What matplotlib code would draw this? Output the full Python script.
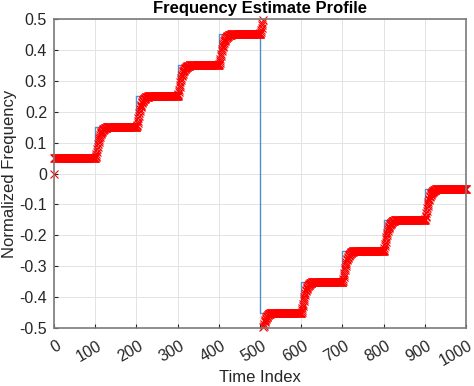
import matplotlib
matplotlib.use("Agg")
import matplotlib.pyplot as plt
import matplotlib.transforms as mtransforms
import numpy as np

# true normalized frequency for each 100-sample block
block_starts = [0, 100, 200, 300, 400, 500, 600, 700, 800, 900]
true_levels = [0.05, 0.15, 0.25, 0.35, 0.45, -0.45, -0.35, -0.25, -0.15, -0.05]
# fraction of a step the estimate has covered, k samples after a change
rise = [0.0, 0.03, 0.08, 0.14, 0.21, 0.29, 0.37, 0.45, 0.52, 0.58, 0.64, 0.69,
        0.73, 0.77, 0.8, 0.83, 0.855, 0.875, 0.895, 0.91, 0.925, 0.94, 0.95,
        0.96, 0.967, 0.974, 0.98, 0.985, 0.99, 0.994, 0.997, 1.0]
x_ticks = [0, 100, 200, 300, 400, 500, 600, 700, 800, 900, 1000]
y_ticks = [-0.5, -0.4, -0.3, -0.2, -0.1, 0, 0.1, 0.2, 0.3, 0.4, 0.5]
y_labels = ["-0.5", "-0.4", "-0.3", "-0.2", "-0.1", "0", "0.1", "0.2", "0.3", "0.4", "0.5"]

plt.rcParams.update({
    "font.family": ["Liberation Sans", "DejaVu Sans"],
    "font.size": 11.5,
})

# estimate track: lags each jump of the true frequency, wrapped to [-0.5, 0.5)
t = np.arange(0, 1001)
est = np.zeros(len(t))
prev = true_levels[0]
for k, start in enumerate(block_starts):
    target = true_levels[k]
    if k > 0 and target - prev < -0.5:
        target += 1.0
    stop = block_starts[k + 1] if k + 1 < len(block_starts) else 1001
    for i in range(start, stop):
        j = i - start
        if k == 0:
            est[i] = target
        else:
            est[i] = prev + (target - prev) * rise[min(j, len(rise) - 1)]
    prev = true_levels[k]
est[0] = 0.0
est = np.where(est > 0.5, est - 1.0, est)

# true frequency as stairs
tx = block_starts + [1000]
ty = true_levels + [true_levels[-1]]

fig = plt.figure(figsize=(4.74, 3.86), dpi=100)
ax = fig.add_axes([0.114, 0.150, 0.869, 0.801])

ax.step(tx, ty, where="post", color="#4d90cd", linewidth=1.0)
ax.plot(t, est, "x", color="#ff0000", markersize=6, markeredgewidth=0.8,
        clip_on=False)

ax.set_xlim(0, 1000)
ax.set_ylim(-0.5, 0.5)
ax.set_xticks(x_ticks)
ax.set_xticklabels([str(v) for v in x_ticks], rotation=30, ha="right",
                   va="center", rotation_mode="anchor")
ax.set_yticks(y_ticks)
ax.set_yticklabels(y_labels)
ax.tick_params(direction="in", length=3, colors="#262626", labelsize=11.5)
ax.tick_params(axis="x", pad=12)
ax.tick_params(axis="y", pad=5)
shift = mtransforms.ScaledTranslation(4 / 72, 0, fig.dpi_scale_trans)
for lab in ax.get_xticklabels():
    lab.set_transform(lab.get_transform() + shift)
ax.grid(True, color="#e3e3e3", linewidth=0.7)
ax.set_axisbelow(True)
for s in ax.spines.values():
    s.set_color("#7a7a7a")
    s.set_linewidth(1.2)

ax.set_xlabel("Time Index", fontsize=12, color="#262626")
ax.xaxis.set_label_coords(0.5, -0.135)
ax.set_ylabel("Normalized Frequency", fontsize=12, color="#262626", labelpad=2)
ax.set_title("Frequency Estimate Profile", fontsize=12, fontweight="bold", pad=4)

fig.savefig("out.png", dpi=100)
